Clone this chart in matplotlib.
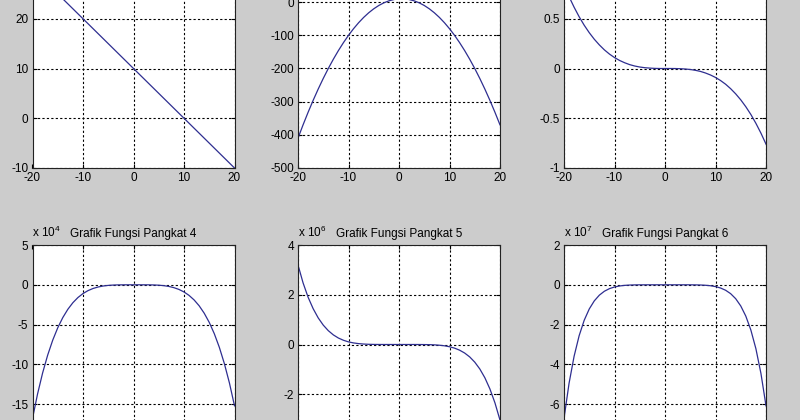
import matplotlib.pyplot as plt
import numpy as np

plt.rcParams['font.family'] = ['Liberation Sans', 'DejaVu Sans']
plt.rcParams['mathtext.fontset'] = 'custom'
plt.rcParams['mathtext.rm'] = 'Liberation Sans'
plt.rcParams['axes.unicode_minus'] = False

x = list(range(-20, 21))

# Pangkat 1
y1 = [30, 29, 28, 27, 26, 25, 24, 23, 22, 21, 20, 19, 18, 17, 16, 15, 14, 13, 12, 11, 10,
      9, 8, 7, 6, 5, 4, 3, 2, 1, 0, -1, -2, -3, -4, -5, -6, -7, -8, -9, -10]
# Pangkat 2
y2 = [-410, -370, -332, -296, -262, -230, -200, -172, -146, -122, -100, -80, -62, -46, -32, -20,
      -10, -2, 4, 8, 10, 10, 8, 4, -2, -10, -20, -32, -46, -62, -80, -100, -122, -146, -172,
      -200, -230, -262, -296, -332, -370]
# Pangkat 3 (x 10^4)
y3 = [0.84, 0.722, 0.616, 0.520, 0.435, 0.36, 0.294, 0.237, 0.187, 0.145, 0.11, 0.081, 0.058,
      0.039, 0.025, 0.015, 0.008, 0.004, 0.001, 0.0, 0.0, 0.0, -0.0004, -0.002, -0.005, -0.01,
      -0.018, -0.029, -0.045, -0.065, -0.09, -0.121, -0.158, -0.203, -0.255, -0.315, -0.384,
      -0.462, -0.551, -0.650, -0.76]
# Pangkat 4 (x 10^4)
y4 = [-16.8, -13.718, -11.081, -8.843, -6.963, -5.4, -4.116, -3.076, -2.246, -1.597, -1.1,
      -0.729, -0.461, -0.274, -0.151, -0.075, -0.032, -0.011, -0.002, 0.0, 0.0, 0.0, -0.001,
      -0.005, -0.019, -0.05, -0.108, -0.206, -0.358, -0.583, -0.9, -1.331, -1.901, -2.636,
      -3.567, -4.725, -6.144, -7.861, -9.914, -12.346, -15.2]
# Pangkat 5 (x 10^6)
y5 = [3.2, 2.48, 1.9, 1.44, 1.07, 0.78, 0.556, 0.386, 0.26, 0.17, 0.105, 0.063, 0.035, 0.018,
      0.008, 0.003, 0.001, 0.0, 0.0, 0.0, 0.0, 0.0, 0.0, 0.0, -0.001, -0.003, -0.006, -0.014,
      -0.029, -0.052, -0.09, -0.146, -0.228, -0.343, -0.499, -0.709, -0.983, -1.336, -1.785,
      -2.346, -3.04]
# Pangkat 6 (x 10^7)
y6 = [-6.72, -4.952, -3.59, -2.556, -1.783, -1.215, -0.807, -0.52, -0.323, -0.193, -0.11,
      -0.059, -0.029, -0.013, -0.005, -0.002, -0.001, 0.0, 0.0, 0.0, 0.0, 0.0, 0.0, 0.0, 0.0,
      -0.001, -0.004, -0.01, -0.023, -0.047, -0.09, -0.161, -0.274, -0.446, -0.699, -1.063,
      -1.573, -2.272, -3.212, -4.457, -6.08]

series = [y1, y2, y3, y4, y5, y6]
titles = ['Grafik Fungsi Pangkat %d' % i for i in range(1, 7)]
multipliers = [None, None, '4', '4', '6', '7']
ylims = [(-10, 30), (-500, 100), (-1, 1), (-20, 5), (-4, 4), (-8, 2)]
yticks = [np.arange(-10, 31, 10), np.arange(-500, 101, 100), np.arange(-1, 1.01, 0.5),
          np.arange(-20, 6, 5), np.arange(-4, 5, 2), np.arange(-8, 3, 2)]

fig = plt.figure(figsize=(8, 4.2), dpi=100, facecolor='#cccccc')

lefts = [32.5 / 800, 298 / 800, 564 / 800]
bottoms = [1 - 168 / 420, 1 - 444 / 420]
w, h = 202 / 800, 199 / 420

for i in range(6):
    ax = fig.add_axes([lefts[i % 3], bottoms[i // 3], w, h])
    ax.set_facecolor('white')
    ax.plot(x, series[i], color='#2e2e90', lw=0.9)
    ax.set_xlim(-20, 20)
    ax.set_ylim(*ylims[i])
    ax.set_xticks([-20, -10, 0, 10, 20])
    ax.set_yticks(yticks[i])
    ax.set_yticklabels(['%g' % v for v in yticks[i]])
    ax.grid(True, color='black', linestyle=(0, (2, 2)), linewidth=0.8)
    ax.tick_params(direction='in', top=True, right=True, length=3, width=0.8,
                   labelsize=8.5, pad=3, colors='black')
    for s in ax.spines.values():
        s.set_linewidth(0.8)
        s.set_color('#222222')
    ax.set_title(titles[i], fontsize=8.5, pad=6)
    if multipliers[i]:
        ax.text(0, 1.025, r'x 10$^{\mathregular{%s}}$' % multipliers[i], transform=ax.transAxes,
                ha='left', va='bottom', fontsize=8.5)

fig.savefig('out.png', dpi=100, facecolor=fig.get_facecolor())
